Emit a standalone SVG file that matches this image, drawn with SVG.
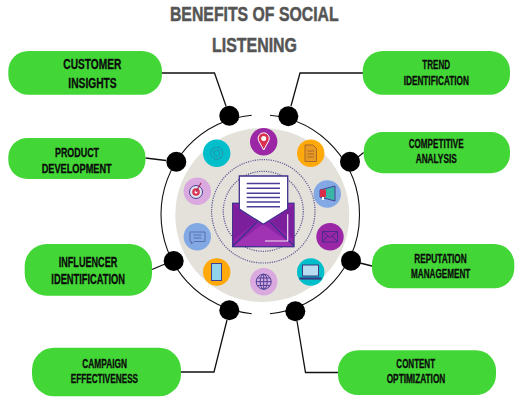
<svg xmlns="http://www.w3.org/2000/svg" width="522" height="408" viewBox="0 0 522 408">
<style>
text{font-family:"Liberation Sans Narrow","Liberation Sans",sans-serif;font-weight:700;text-anchor:middle}
.pill{fill:#42d736}
.l{fill:#0b0b0b;stroke:#0b0b0b;stroke-width:.3;font-size:12px}
.lb{font-size:14px}
.title{fill:#555;stroke:#555;stroke-width:.5;font-size:21px}
.c{fill:none;stroke:#111;stroke-width:1.3}
.ring{fill:none;stroke:#111;stroke-width:1.1}
.dot{fill:#000}
.dots{fill:none;stroke:#5f5a96;stroke-width:1.2;stroke-dasharray:1.2 1.1}
.ink{fill:none;stroke:#4a3f96;stroke-width:1}
</style>
<rect width="522" height="408" fill="#fff"/>
<g id="title">
<text class="title" x="254.3" y="21.3" textLength="168.7" lengthAdjust="spacingAndGlyphs">BENEFITS OF SOCIAL</text>
<text class="title" x="254.5" y="51.7" textLength="85" lengthAdjust="spacingAndGlyphs">LISTENING</text>
</g>
<g id="disc"><circle cx="262.3" cy="215" r="87" fill="#e3e1da"/></g>
<g id="connectors">
<path class="ring" d="M251.7 115.2A99.5 99.5 0 0 0 161 214.5A99.5 99.5 0 0 0 251.7 313.7"/>
<path class="ring" d="M270 115.2A99.5 99.5 0 0 1 359.5 214.5A99.5 99.5 0 0 1 270 313.7"/>
<path class="c" d="M162 73H214.5L226 106"/>
<path class="c" d="M145.500 158L166 160.500"/>
<path class="c" d="M363 73H300L291 106"/>
<path class="c" d="M363.700 152.500L358 157"/>
<path class="c" d="M152 269.500L165 264"/>
<path class="c" d="M181 372H214L227 320"/>
<path class="c" d="M372 266L360 263"/>
<path class="c" d="M338 372.500H305.500L297 321"/>
<circle class="dot" cx="229.300" cy="115.700" r="10"/>
<circle class="dot" cx="288.300" cy="116.300" r="10"/>
<circle class="dot" cx="176.300" cy="161.700" r="10"/>
<circle class="dot" cx="350" cy="161.700" r="10"/>
<circle class="dot" cx="173.700" cy="261" r="10"/>
<circle class="dot" cx="351" cy="260.700" r="10"/>
<circle class="dot" cx="229.300" cy="310.300" r="10"/>
<circle class="dot" cx="295.300" cy="311.300" r="10"/>
</g>
<g id="customer-insights"><rect class="pill" x="8.300" y="51" width="153.700" height="43.700" rx="20"/>
<text class="l lb" x="92.300" y="69.300" textLength="58" lengthAdjust="spacingAndGlyphs">CUSTOMER</text>
<text class="l lb" x="92.500" y="88.300" textLength="48.400" lengthAdjust="spacingAndGlyphs">INSIGHTS</text></g>
<g id="product-development"><rect class="pill" x="8.300" y="138" width="137.200" height="41" rx="19"/>
<text class="l" x="77" y="156.700" textLength="44" lengthAdjust="spacingAndGlyphs">PRODUCT</text>
<text class="l" x="76.700" y="173.300" textLength="70" lengthAdjust="spacingAndGlyphs">DEVELOPMENT</text></g>
<g id="trend-identification"><rect class="pill" x="362.700" y="51" width="147.300" height="43.700" rx="20"/>
<text class="l" x="436.200" y="69.300" textLength="27.700" lengthAdjust="spacingAndGlyphs">TREND</text>
<text class="l" x="436.300" y="85.300" textLength="65.300" lengthAdjust="spacingAndGlyphs">IDENTIFICATION</text></g>
<g id="competitive-analysis"><rect class="pill" x="363.700" y="132" width="146.300" height="41.300" rx="19"/>
<text class="l" x="436.200" y="148.300" textLength="55" lengthAdjust="spacingAndGlyphs">COMPETITIVE</text>
<text class="l" x="436.200" y="163.300" textLength="41" lengthAdjust="spacingAndGlyphs">ANALYSIS</text></g>
<g id="influencer-identification"><rect class="pill" x="24.700" y="244" width="127.300" height="51.700" rx="22"/>
<text class="l lb" x="88" y="267.300" textLength="58.600" lengthAdjust="spacingAndGlyphs">INFLUENCER</text>
<text class="l lb" x="88.200" y="284.300" textLength="73.700" lengthAdjust="spacingAndGlyphs">IDENTIFICATION</text></g>
<g id="campaign-effectiveness"><rect class="pill" x="32" y="347.700" width="149" height="48.600" rx="22"/>
<text class="l" x="104.700" y="368.300" textLength="44.700" lengthAdjust="spacingAndGlyphs">CAMPAIGN</text>
<text class="l" x="104.400" y="383.300" textLength="67.300" lengthAdjust="spacingAndGlyphs">EFFECTIVENESS</text></g>
<g id="reputation-management"><rect class="pill" x="372" y="244" width="142.300" height="44.300" rx="20"/>
<text class="l" x="440.500" y="263.300" textLength="52.400" lengthAdjust="spacingAndGlyphs">REPUTATION</text>
<text class="l" x="440.700" y="278.300" textLength="59.300" lengthAdjust="spacingAndGlyphs">MANAGEMENT</text></g>
<g id="content-optimization"><rect class="pill" x="338" y="350.300" width="158" height="44.700" rx="20"/>
<text class="l" x="415.700" y="368.300" textLength="38.700" lengthAdjust="spacingAndGlyphs">CONTENT</text>
<text class="l" x="416" y="383.300" textLength="58.600" lengthAdjust="spacingAndGlyphs">OPTIMIZATION</text></g>
<g id="icons">
<circle cx="263.700" cy="141.700" r="13.700" fill="#9b27a6"/>
<path d="M263.700 150L258.500 140.500A5.600 5.600 0 1 1 268.900 140.500Z" fill="#d9304f" stroke="#fff" stroke-width="1"/><circle cx="263.700" cy="138.500" r="2.500" fill="#fff"/>
<circle cx="310.700" cy="153.300" r="13.700" fill="#ffa90a"/>
<path d="M305 145H313L316.500 148.500V161.500H305Z" fill="#e89a22" stroke="#a8682a"/><path d="M307.500 151H314M307.500 154H314M307.500 157H314" stroke="#a8682a"/>
<circle cx="327.300" cy="194" r="13.700" fill="#82a9e4"/>
<path d="M320 190L335 186V201L320 197Z" fill="#39b6a8" stroke="#4a3f96"/><rect x="320" y="189.500" width="6" height="7.500" fill="#d92d4a"/><path d="M323 197V200" stroke="#fff" stroke-width="2"/>
<circle cx="330" cy="236.700" r="13.700" fill="#9b27a6"/>
<path d="M322.500 231.500H337.500V242H322.500ZM322.500 231.500L330 237.500L337.500 231.500M322.500 242L327.500 236M337.500 242L332.500 236" fill="none" stroke="#4a2a8a"/>
<circle cx="310.700" cy="272" r="13.700" fill="#00bfcb"/>
<rect x="302.500" y="265" width="16" height="11" fill="#b6dcef" stroke="#3a3a80"/><path d="M299.500 278.500H321.500" stroke="#3a3a80" stroke-width="2.200"/>
<circle cx="263.700" cy="281.700" r="13.700" fill="#d9a9df"/>
<g class="ink"><circle cx="263.700" cy="281.700" r="7.500"/><ellipse cx="263.700" cy="281.700" rx="3.500" ry="7.500"/><path d="M256.200 281.700H271.200M257.500 278H270M257.500 285.400H270M263.700 274.200V289.200"/></g>
<circle cx="216.700" cy="272" r="13.700" fill="#ffa90a"/>
<rect x="211.500" y="263.500" width="10" height="17" fill="#8fd3ec" stroke="#3f3f8f"/>
<circle cx="197.300" cy="236.700" r="13.700" fill="#82a9e4"/>
<path d="M190 232H205V241.500H194L191.500 244V241.500H190Z" fill="none" stroke="#5a6eae"/><path d="M193.500 235H201.500M193.500 238H201.500" stroke="#5a6eae"/>
<circle cx="197.300" cy="191.300" r="13.700" fill="#d9a9df"/>
<circle cx="196" cy="192" r="6.500" fill="#dfe3ec" stroke="#4a3f96"/><circle cx="196" cy="192" r="3.800" fill="#d9304f"/><circle cx="196" cy="192" r="1.500" fill="#fff"/><path d="M196 192L201 183" stroke="#a52a5a" stroke-width="1.200"/>
<circle cx="216.700" cy="153.300" r="13.700" fill="#00bfcb"/>
<g fill="none" stroke="#2b8ea8"><circle cx="216.700" cy="153.300" r="6"/><circle cx="216.700" cy="153.300" r="3"/></g>
</g>
<g id="envelope">
<circle class="dots" cx="263.300" cy="211.300" r="51.700"/>
<circle class="dots" cx="263.300" cy="211.300" r="40"/>
<rect x="232.700" y="203.300" width="61.300" height="43.400" fill="#8e24aa" stroke="#3f2f8c" stroke-width="1.300"/>
<path d="M233 246L263 224L294 246Z" fill="#a032b4"/>
<path d="M233 204L256 222L233 240ZM294 204L271 222L294 240Z" fill="#7c1f9c"/>
<path d="M233 246L257 222M294 246L270 222" stroke="#3f2f8c" stroke-width="1.300" fill="none"/>
<path d="M239.300 176H287.700V209L263.300 224.300L239.300 209Z" fill="#fff" stroke="#3f2f8c" stroke-width="1.300"/>
<path d="M246.700 183.500H280M246.700 188.300H280M246.700 193.300H280M246.700 197.500H280M246.700 202H280M246.700 206.700H280" stroke="#4a3f96" stroke-width="1.500"/>
<path d="M287.700 214.300V241H265" fill="none" stroke="#f2e6f5" stroke-width="1.200"/>
</g>
</svg>
